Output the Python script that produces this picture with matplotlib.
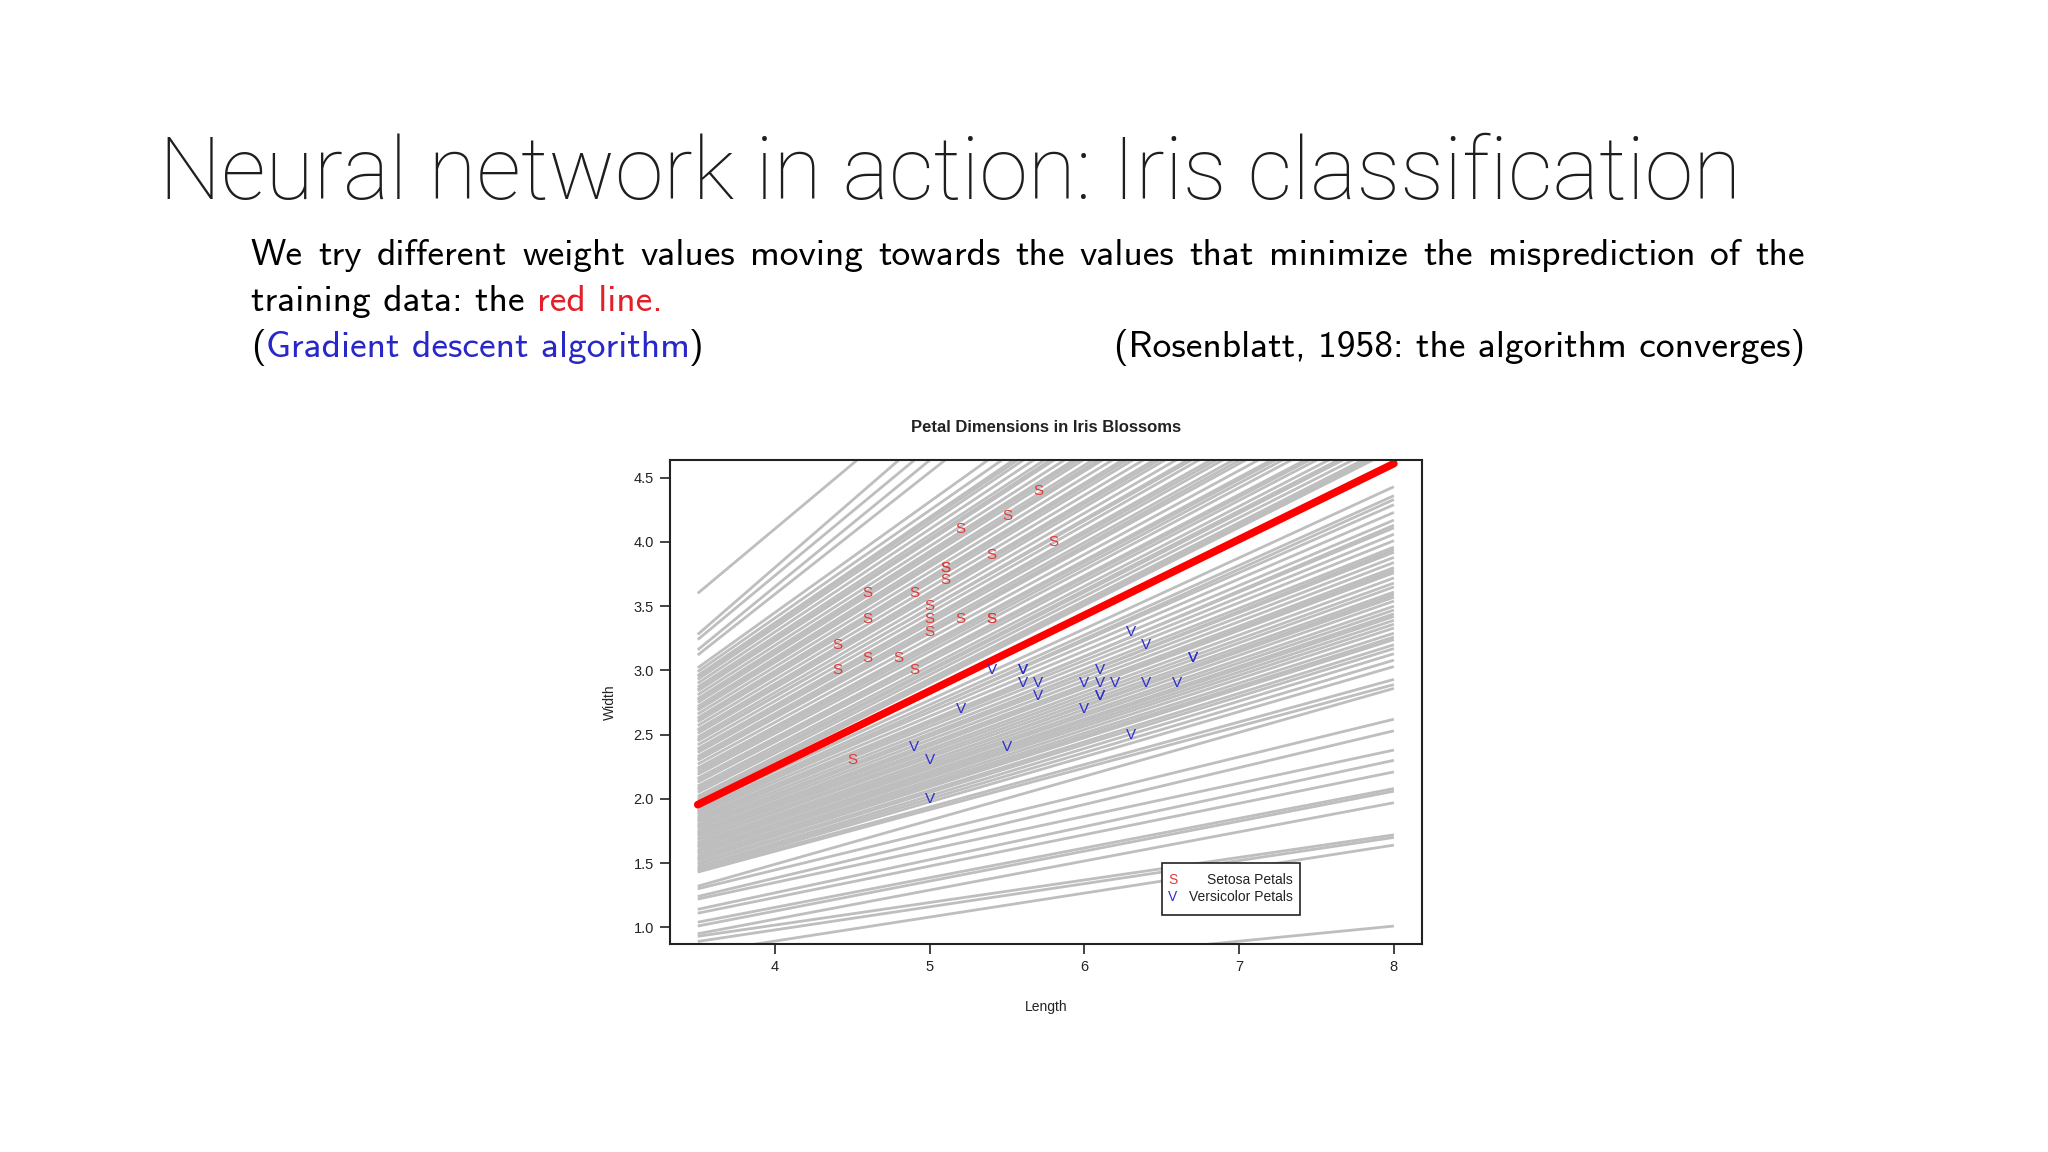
import matplotlib.pyplot as plt
from matplotlib.patches import Rectangle

# ---- slide text ----
slide_title = "Neural network in action: Iris classification"
body_line1 = "We try different weight values moving towards the values that minimize the misprediction of the"
body_line2_black = "training data: the"
body_line2_red = "red line."
body_line3_blue = "Gradient descent algorithm"
body_line3_right = "(Rosenblatt, 1958: the algorithm converges)"

# ---- chart data ----
chart_title = "Petal Dimensions in Iris Blossoms"
x_label = "Length"
y_label = "Width"
x_ticks = [4, 5, 6, 7, 8]
y_ticks = [1.0, 1.5, 2.0, 2.5, 3.0, 3.5, 4.0, 4.5]

setosa_length = [5.7, 5.5, 5.2, 5.8, 5.4, 5.1, 5.1, 5.1, 4.6, 4.9, 5.0, 5.0, 5.0,
                 4.6, 5.2, 5.4, 5.4, 4.4, 4.6, 4.8, 4.4, 4.9, 4.5]
setosa_width = [4.4, 4.2, 4.1, 4.0, 3.9, 3.8, 3.8, 3.7, 3.6, 3.6, 3.5, 3.4, 3.3,
                3.4, 3.4, 3.4, 3.4, 3.2, 3.1, 3.1, 3.0, 3.0, 2.3]

versicolor_length = [6.3, 6.4, 6.7, 6.7, 5.4, 5.6, 5.6, 6.1, 5.6, 5.7, 6.0, 6.1, 6.2,
                     6.4, 6.6, 5.7, 6.1, 6.1, 6.0, 5.2, 6.3, 5.5, 4.9, 5.0, 5.0]
versicolor_width = [3.3, 3.2, 3.1, 3.1, 3.0, 3.0, 3.0, 3.0, 2.9, 2.9, 2.9, 2.9, 2.9,
                    2.9, 2.9, 2.8, 2.8, 2.8, 2.7, 2.7, 2.5, 2.4, 2.4, 2.3, 2.0]

# candidate separating lines, y at x = 3.5 (left) and x = 8 (right)
line_x = [3.5, 8.0]
gray_left = [
    # sparse lines at the bottom
    0.48, 0.80, 0.89, 0.93, 0.95, 1.01, 1.04, 1.11, 1.14, 1.22, 1.24, 1.30, 1.32,
    # dense band under the final line
    1.43, 1.44, 1.45, 1.46, 1.47, 1.49, 1.50, 1.52, 1.53, 1.54, 1.55, 1.57, 1.58,
    1.59, 1.60, 1.62, 1.63, 1.64, 1.65, 1.66, 1.68, 1.69, 1.71, 1.72, 1.73, 1.74,
    1.75, 1.77, 1.78, 1.79, 1.80, 1.82, 1.83, 1.84, 1.85, 1.86, 1.88, 1.89, 1.90,
    1.91, 1.92, 1.94,
    # dense band above the final line
    1.99, 2.00, 2.02, 2.05, 2.07, 2.08, 2.10, 2.13, 2.15, 2.16, 2.19, 2.21, 2.23,
    2.24, 2.27, 2.30, 2.31, 2.33, 2.36, 2.38, 2.39, 2.42, 2.45, 2.46, 2.48, 2.51,
    2.53, 2.54, 2.57, 2.60, 2.62, 2.63, 2.66, 2.69, 2.70, 2.72, 2.75, 2.77, 2.78,
    2.81, 2.84, 2.85, 2.87, 2.90, 2.93, 2.95, 2.96, 2.99, 3.02,
    # steep lines at the top left
    3.12, 3.16, 3.24, 3.28, 3.60,
]
gray_right = [
    1.01, 1.64, 1.70, 1.72, 1.97, 2.06, 2.08, 2.21, 2.30, 2.38, 2.53, 2.62, 2.86,
    2.89, 2.93, 3.03, 3.08, 3.13, 3.17, 3.20, 3.24, 3.26, 3.29, 3.33, 3.36, 3.39,
    3.42, 3.44, 3.47, 3.50, 3.54, 3.59, 3.57, 3.61, 3.65, 3.68, 3.72, 3.78, 3.76,
    3.80, 3.84, 3.94, 3.88, 3.92, 3.96, 4.13, 4.01, 4.06, 4.11, 4.17, 4.33, 4.23,
    4.29, 4.36, 4.43,
    4.72, 4.74, 4.76, 4.80, 4.84, 4.86, 4.90, 4.95, 4.98, 5.00, 5.06, 5.10, 5.13,
    5.15, 5.21, 5.27, 5.30, 5.33, 5.38, 5.41, 5.44, 5.50, 5.56, 5.53, 5.62, 5.68,
    5.71, 5.74, 5.80, 5.86, 5.89, 5.92, 5.98, 6.04, 6.07, 6.10, 6.16, 6.19, 6.22,
    6.28, 6.35, 6.38, 6.42, 6.50, 6.58, 6.62, 6.66, 6.76, 6.90,
    7.39, 7.59, 7.73, 7.98, 8.13,
]
final_line = [1.955, 4.61]

legend_labels = ["Setosa Petals", "Versicolor Petals"]

SETOSA_COLOR = "#E03A3A"
VERSI_COLOR = "#2E2ECC"
INK = "#222222"
BODY_FONT = ["cmss10", "DejaVu Sans"]
CHART_FONT = "Liberation Sans"

fig = plt.figure(figsize=(20.48, 11.52), dpi=100)
fig.patch.set_facecolor("white")

# background axes in pixel units for the slide text
bg = fig.add_axes([0, 0, 1, 1])
bg.set_xlim(0, 2048)
bg.set_ylim(1152, 0)
bg.set_axis_off()
renderer = fig.canvas.get_renderer()

t = bg.text(159, 199, slide_title, fontsize=60, family=["Roboto", "Lato"], fontweight="light",
            color="#1E1E1E", va="baseline", ha="left")
w = t.get_window_extent(renderer).width
t.set_fontsize(60 * 1584 / w)

left, right = 251, 1805
size = 27

# line 1, justified word by word
words = body_line1.split()
word_texts = [bg.text(0, 265, wd, fontsize=size, family=BODY_FONT, color="black",
                      va="baseline", ha="left") for wd in words]
widths = [wt.get_window_extent(renderer).width for wt in word_texts]
gap = (right - left - sum(widths)) / (len(words) - 1)
x = left
for wt, wd in zip(word_texts, widths):
    wt.set_x(x)
    x += wd + gap

# line 2
full2 = bg.text(left, 311, body_line2_black + " " + body_line2_red, fontsize=size,
                family=BODY_FONT, va="baseline", alpha=0)
w2 = full2.get_window_extent(renderer).width
bg.text(left, 311, body_line2_black, fontsize=size, family=BODY_FONT, color="black",
        va="baseline")
bg.text(left + w2, 311, body_line2_red, fontsize=size, family=BODY_FONT, color="#E0202A",
        va="baseline", ha="right")

# line 3
full3 = bg.text(left, 357, "(" + body_line3_blue + ")", fontsize=size, family=BODY_FONT,
                va="baseline", alpha=0)
w3 = full3.get_window_extent(renderer).width
paren = bg.text(left, 357, "(", fontsize=size, family=BODY_FONT, color="black", va="baseline")
wp = paren.get_window_extent(renderer).width
bg.text(left + wp, 357, body_line3_blue, fontsize=size, family=BODY_FONT, color="#2828C8",
        va="baseline")
bg.text(left + w3, 357, ")", fontsize=size, family=BODY_FONT, color="black",
        va="baseline", ha="right")
bg.text(right, 357, body_line3_right, fontsize=size, family=BODY_FONT, color="black",
        va="baseline", ha="right")

# ---- the chart ----
ax = fig.add_axes([0.3271, 0.1803, 0.3671, 0.4204])
for y0, y1 in zip(gray_left, gray_right):
    ax.plot(line_x, [y0, y1], color="#BEBEBE", lw=2.0, solid_capstyle="butt", zorder=1)
ax.plot(line_x, final_line, color="#FF0000", lw=5.5, solid_capstyle="round", zorder=2)

for xv, yv in zip(setosa_length, setosa_width):
    ax.text(xv, yv, "S", color=SETOSA_COLOR, fontsize=11, family=CHART_FONT,
            ha="center", va="center", zorder=3)
for xv, yv in zip(versicolor_length, versicolor_width):
    ax.text(xv, yv, "V", color=VERSI_COLOR, fontsize=11, family=CHART_FONT,
            ha="center", va="center", zorder=3)

ax.set_xlim(3.32, 8.18)
ax.set_ylim(0.868, 4.638)
ax.set_xticks(x_ticks)
ax.set_xticklabels([str(v) for v in x_ticks])
ax.set_yticks(y_ticks)
ax.set_yticklabels(["%.1f" % v for v in y_ticks])
ax.tick_params(direction="out", length=7.5, width=1.2, labelsize=10.5, pad=4,
               colors=INK)
for lab in ax.get_xticklabels() + ax.get_yticklabels():
    lab.set_family(CHART_FONT)
for sp in ax.spines.values():
    sp.set_linewidth(1.5)
    sp.set_color(INK)

ax.set_title(chart_title, fontsize=12, fontweight="bold", family=CHART_FONT,
             color=INK, pad=20)
ax.set_xlabel(x_label, fontsize=10, family=CHART_FONT, color=INK)
ax.set_ylabel(y_label, fontsize=10, family=CHART_FONT, color=INK)
ax.xaxis.set_label_coords(0.5, -0.129)
ax.xaxis.label.set_verticalalignment("center")
ax.yaxis.set_label_coords(-0.080, 0.5)
ax.yaxis.label.set_verticalalignment("center")

# legend box, drawn the way R's legend() looks
ax.add_patch(Rectangle((0.654, 0.0605), 0.184, 0.1065, transform=ax.transAxes,
                       facecolor="white", edgecolor=INK, lw=1.2, zorder=5))
ax.text(0.669, 0.133, "S", color=SETOSA_COLOR, fontsize=10, family=CHART_FONT,
        transform=ax.transAxes, ha="center", va="center", zorder=6)
ax.text(0.669, 0.097, "V", color=VERSI_COLOR, fontsize=10, family=CHART_FONT,
        transform=ax.transAxes, ha="center", va="center", zorder=6)
ax.text(0.829, 0.133, legend_labels[0], color=INK, fontsize=10, family=CHART_FONT,
        transform=ax.transAxes, ha="right", va="center", zorder=6)
ax.text(0.829, 0.097, legend_labels[1], color=INK, fontsize=10, family=CHART_FONT,
        transform=ax.transAxes, ha="right", va="center", zorder=6)

fig.savefig("out.png", dpi=100, facecolor="white")
